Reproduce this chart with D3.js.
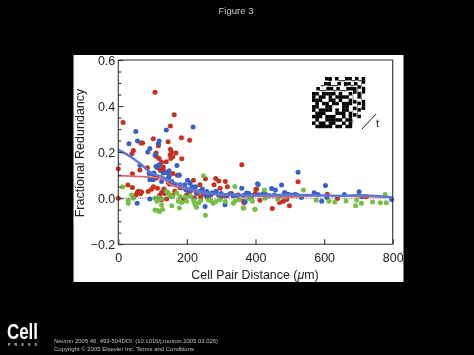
<!DOCTYPE html>
<html><head><meta charset="utf-8">
<script src="https://cdn.jsdelivr.net/npm/d3@7/dist/d3.min.js"></script>
<style>html,body{margin:0;padding:0;background:#000;overflow:hidden}svg{display:block;filter:blur(.4px)}text{font-family:"Liberation Sans",Arial,sans-serif}</style>
</head><body><svg id="c" width="474" height="355"></svg>
<script>
const redPts=[[107,.46],[163,.362],[14,.329],[152,.313],[184,.262],[208,.252],[102,.258],[145,.245],[66,.24],[71,.24],[117,.228],[44,.207],[40,.194],[110,.196],[152,.212],[155,.2],[168,.196],[151,.188],[159,.18],[112,.18],[119,.172],[185,.171],[126,.156],[140,.158],[153,.172],[0,.128],[63,.122],[85,.132],[114,.132],[132,.12],[41,.106],[146,.113],[159,.107],[172,.1],[107,.09],[254,.084],[284,.085],[219,.078],[28,.057],[41,.046],[61,.029],[55,.022],[65,.019],[58,.03],[52,.015],[68,.027],[87,.029],[97,.039],[102,.05],[114,.043],[126,.025],[146,.068],[112,.087],[123,.12],[131,.135],[360,.145],[293,.075],[312,.072],[279,.058],[318,.05],[297,.043],[238,.058],[228,.022],[258,.007],[199,.014],[126,-.007],[141,-.004],[0,0],[364,-.014],[350,.014],[316,.01],[403,.04],[524,.071],[401,.038],[399,.02],[449,-.045],[499,-.033],[470,-.019],[481,-.013],[491,-.006],[413,-.009],[367,-.02],[639,-.001],[722,.006],[609,.017],[150,.06],[165,.03],[180,.045],[135,.02],[210,.03],[240,.005],[270,.015],[330,.02],[120,.012],[133,.04],[158,.012],[190,-.008],[222,.002],[248,.02],[300,.005]];
const bluePts=[[51,.29],[31,.236],[56,.248],[119,.248],[117,.236],[140,.296],[218,.309],[92,.216],[86,.2],[107,.186],[110,.138],[119,.145],[171,.142],[63,.143],[90,.107],[99,.106],[148,.119],[143,.11],[177,.1],[146,.088],[202,.078],[104,.109],[117,.138],[131,.109],[148,.094],[178,.101],[92,.08],[102,.08],[126,.072],[156,.072],[180,.058],[194,.058],[209,.065],[197,.036],[219,.036],[238,.029],[258,.029],[277,.022],[300,.02],[360,.043],[374,.022],[406,.062],[55,-.022],[92,-.004],[253,-.036],[311,-.029],[524,.113],[604,.055],[408,.059],[476,.057],[447,.042],[458,.035],[485,.025],[571,.023],[582,.016],[702,.028],[659,.016],[593,-.013],[608,.003],[797,-.006],[370,-.016],[515,.016],[505,.013],[423,.02],[534,.003],[710,.006],[496,.017],[165,.06],[185,.045],[215,.05],[230,.02],[245,.04],[265,.012],[285,.03],[325,.018],[345,.012],[390,.01],[440,.012],[470,.008],[205,.03],[225,.05],[255,.015],[272,.022],[292,.014],[310,.012],[335,.01],[365,.012],[380,.02],[410,.015],[430,.016],[455,.014],[480,.012],[520,.014]];
const greenPts=[[13,.048],[39,.014],[44,0],[29,-.01],[29,-.022],[107,0],[117,.002],[125,-.003],[113,-.014],[126,-.029],[107,-.051],[114,-.054],[120,-.058],[129,-.048],[141,.029],[146,.022],[150,.01],[156,.007],[170,.022],[180,.007],[175,-.014],[185,-.019],[156,-.033],[178,-.043],[199,-.014],[219,-.007],[224,-.029],[228,-.039],[248,.097],[254,-.074],[262,-.007],[277,-.022],[297,-.007],[340,.051],[340,-.014],[364,-.043],[399,-.048],[384,0],[353,-.007],[335,-.022],[540,.035],[426,.035],[366,-.043],[398,-.048],[391,-.013],[379,0],[577,-.009],[614,-.013],[631,-.017],[664,-.012],[692,-.033],[695,-.009],[709,-.022],[741,-.017],[764,-.02],[781,-.02],[778,.016],[465,-.006],[488,.006],[428,0],[210,.01],[235,-.02],[270,-.012],[312,-.015],[195,.005],[240,-.01],[222,-.018],[285,-.015]];
const blueLine=[[0,.21],[25,.19],[50,.165],[75,.135],[100,.105],[125,.095],[150,.075],[175,.06],[200,.045],[225,.035],[250,.025],[300,.017],[350,.013],[400,.012],[450,.014],[500,.014],[550,.014],[600,.012],[650,.01],[700,.013],[750,.01],[800,.003]];
const redLine=[[0,.098],[50,.095],[100,.09],[130,.085],[150,.06],[200,.04],[250,.022],[300,.015],[400,.01],[500,.005],[600,.012],[700,.008],[800,.005]];
const xTicks=[0,200,400,600,800];
const yTicks=[-.2,0,.2,.4,.6];
const yMinor=[-.15,-.1,-.05,.05,.1,.15,.25,.3,.35,.45,.5,.55];
const insetFrames=[
["110100110101","010011001011","101100100110","001011011001","110010100101","011101001010","100100110110","010110011001","101001100101","110100101011","001011010100"],
["011001011010","101110010101","010010110110","110101001001","001100110101","101011001100","010100101011","110011010010","001101100101","101000111010","010110100101"],
["100110100111","011001011001","110100101010","001011000110","101010110101","010101001100","110010101011","001101110010","110010010101","011101001100","100100110110"],
["110111101001","101101011110","111001101001","010110110111","110011000110","101111010110","011100011101","111011100101","010011111011","101101100101","011111011011"]];
const svg=d3.select("#c");
const x=d3.scaleLinear().domain([0,800]).range([118.3,392.7]);
const y=d3.scaleLinear().domain([-.2,.6]).range([244.2,60]);
svg.append("text").attr("x",236).attr("y",14).attr("text-anchor","middle").attr("font-size",9.5).attr("fill","#c8c8c8").text("Figure 3");
svg.append("rect").attr("x",73.5).attr("y",55).attr("width",330).attr("height",227).attr("fill","#fff");
const dots=(d,c)=>svg.append("g").selectAll("circle").data(d).join("circle").attr("cx",p=>x(p[0])).attr("cy",p=>y(p[1])).attr("r",2.5).attr("fill",c);
dots(redPts,"#c8301f");
dots(bluePts,"#3560c8");
dots(greenPts,"#76c043");
svg.append("line").attr("x1",x(0)).attr("x2",x(800)).attr("y1",y(0)).attr("y2",y(0)).attr("stroke","#666").attr("stroke-width",1).attr("stroke-dasharray","1.2 1.2");
const ln=d3.line().x(p=>x(p[0])).y(p=>y(p[1])).curve(d3.curveMonotoneX);
svg.append("path").attr("d",ln(redLine)).attr("fill","none").attr("stroke","#dd6a72").attr("stroke-width",1.8);
svg.append("path").attr("d",ln(blueLine)).attr("fill","none").attr("stroke","#5a78d6").attr("stroke-width",2.4);
const ink="#333";
const ax=svg.append("g").attr("transform",`translate(0,${y(-.2)})`).call(d3.axisBottom(x).tickValues(xTicks).tickSize(-5).tickPadding(9).tickFormat(d3.format("d")));
const ay=svg.append("g").attr("transform",`translate(${x(0)},0)`).call(d3.axisLeft(y).tickValues(yTicks).tickSize(-5).tickPadding(3).tickFormat(d3.format(".1f")));
const ayM=svg.append("g").attr("transform",`translate(${x(0)},0)`).call(d3.axisLeft(y).tickValues(yMinor).tickSize(-3).tickFormat(""));
ayM.select(".domain").remove();
[ax,ay,ayM].forEach(g=>{g.selectAll("path,line").attr("stroke",ink).attr("stroke-width",1.1);g.selectAll("text").attr("font-size",12.5).attr("fill","#222").attr("font-family",'"Liberation Sans",Arial,sans-serif');});
ax.select(".domain").attr("d",`M${x(0)},0H${x(800)}`);
ay.select(".domain").attr("d",`M0,${y(-.2)}V${y(.6)}`);
svg.append("path").attr("d",`M${x(0)},${y(.6)}H${x(800)}V${y(-.2)}`).attr("fill","none").attr("stroke",ink).attr("stroke-width",1.1);
svg.append("text").attr("x",255).attr("y",279).attr("text-anchor","middle").attr("font-size",12.4).attr("fill","#222").html('Cell Pair Distance (<tspan font-style="italic">μ</tspan>m)');
svg.append("text").attr("transform","translate(84,153) rotate(-90)").attr("text-anchor","middle").attr("font-size",12.5).attr("fill","#222").text("Fractional Redundancy");
const fx=d3.scaleLinear().domain([0,3]).range([325,312]);
const fy=d3.scaleLinear().domain([0,3]).range([77,92]);
insetFrames.forEach((rows,f)=>{
 const g=svg.append("g").attr("transform",`translate(${fx(f)},${fy(f)})`);
 const cx=d3.scaleBand().domain(d3.range(12)).range([0,40]);
 const cy=d3.scaleBand().domain(d3.range(11)).range([0,36]);
 g.append("rect").attr("x",-.8).attr("y",-.8).attr("width",41.6).attr("height",37.6).attr("fill","#fff");
 rows.forEach((r,i)=>r.split("").forEach((v,j)=>{ if(v==="1") g.append("rect").attr("x",cx(j)).attr("y",cy(i)).attr("width",cx.bandwidth()+.2).attr("height",cy.bandwidth()+.2).attr("fill","#000");}));
});
svg.append("line").attr("x1",362).attr("y1",129).attr("x2",376).attr("y2",114).attr("stroke","#222").attr("stroke-width",1);
svg.append("text").attr("x",376).attr("y",127).attr("font-size",11).attr("font-family",'"Liberation Serif",serif').attr("fill","#222").text("t");
svg.append("text").attr("x",7).attr("y",339).attr("font-size",21.5).attr("font-weight",700).attr("fill","#fff").attr("textLength",31).attr("lengthAdjust","spacingAndGlyphs").text("Cell");
svg.append("text").attr("x",8).attr("y",346).attr("font-size",3.6).attr("font-weight",700).attr("fill","#ddd").attr("textLength",29).text("PRESS");
svg.append("text").attr("x",54).attr("y",343).attr("font-size",5.9).attr("fill","#c4c4c4").attr("textLength",164).attr("lengthAdjust","spacingAndGlyphs").html('<tspan font-style="italic">Neuron</tspan> 2005 46, 493-504DOI: (10.1016/j.neuron.2005.03.026)');
svg.append("text").attr("x",54).attr("y",351).attr("font-size",5.9).attr("fill","#c4c4c4").attr("textLength",140).attr("lengthAdjust","spacingAndGlyphs").html('Copyright © 2005 Elsevier Inc. <tspan text-decoration="underline"> Terms and Conditions</tspan>');
</script></body></html>
